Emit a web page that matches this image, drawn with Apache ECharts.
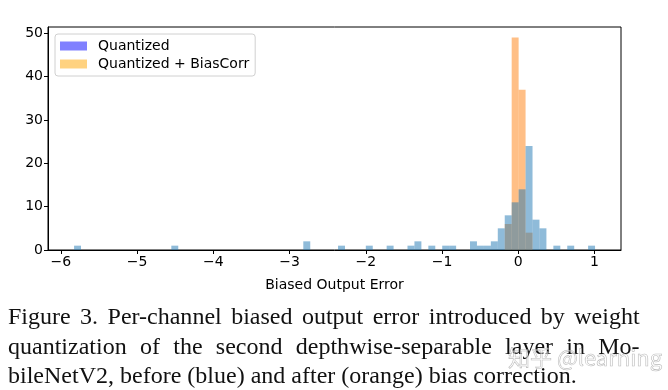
<!DOCTYPE html>
<html>
<head>
<meta charset="utf-8">
<script src="https://cdn.jsdelivr.net/npm/echarts@6/dist/echarts.min.js"></script>
<style>
  html, body { margin: 0; padding: 0; background: #fff; }
  #wrap { position: relative; width: 668px; height: 390px; overflow: hidden; }
  #chart { position: absolute; left: 0; top: 0; width: 668px; height: 390px; }
  #caption { position: absolute; left: 8px; top: 302px; width: 605px;
    transform: scaleX(1.044); transform-origin: 0 0;
    font-family: "Liberation Serif", "DejaVu Serif", serif; font-size: 23px;
    line-height: 29.5px; color: #111; }
  .j { text-align: justify; text-align-last: justify; white-space: nowrap; }
  .l { text-align: left; white-space: nowrap; }
  #wm { position: absolute; left: 508px; top: 340px; font-family: "Noto Sans CJK SC", sans-serif;
    font-size: 22px; color: rgba(255,255,255,0.55); -webkit-text-stroke: 0.6px rgba(120,120,120,0.5); }
</style>
</head>
<body>
<div id="wrap">
  <div id="chart"></div>
  <div id="caption">
    <div class="j">Figure 3. Per-channel biased output error introduced by weight</div>
    <div class="j">quantization of the second depthwise-separable layer in Mo-</div>
    <div class="l">bileNetV2, before (blue) and after (orange) bias correction.</div>
  </div>
  <div id="wm">知乎 @learning</div>
</div>
<script>
// Histogram structure: 75 equal-width bins
var binStart = -5.826;
var binWidth = 0.0911;
// Counts per bin
var quantizedCounts = [
  1,0,0,0,0,0,0,0,0,0,
  0,0,0,0,1,0,0,0,0,0,
  0,0,0,0,0,0,0,0,0,0,
  0,0,0,2,0,0,0,0,1,0,
  0,0,1,0,0,1,0,0,1,2,
  0,1,0,1,1,0,0,2,1,1,
  2,5,8,11,14,24,7,5,0,1,
  0,1,0,0,1
];
var biasCorrCounts = [
  0,0,0,0,0,0,0,0,0,0,
  0,0,0,0,0,0,0,0,0,0,
  0,0,0,0,0,0,0,0,0,0,
  0,0,0,0,0,0,0,0,0,0,
  0,0,0,0,0,0,0,0,0,0,
  0,0,0,0,0,0,0,0,0,0,
  0,0,6,49,37,4,0,0,0,0,
  0,0,0,0,0
];
var xTicks = [-6, -5, -4, -3, -2, -1, 0, 1];
var yTicks = [0, 10, 20, 30, 40, 50];
var seriesNames = ['Quantized', 'Quantized + BiasCorr'];
var xAxisTitle = 'Biased Output Error';

function toBins(counts) {
  var out = [];
  for (var i = 0; i < counts.length; i++) {
    if (counts[i] > 0) {
      var a = binStart + i * binWidth;
      out.push([a, a + binWidth, counts[i]]);
    }
  }
  return out;
}

function renderBar(params, api) {
  var p0 = api.coord([api.value(0), api.value(2)]);
  var p1 = api.coord([api.value(1), 0]);
  return {
    type: 'rect',
    shape: { x: p0[0], y: p0[1], width: p1[0] - p0[0], height: p1[1] - p0[1] },
    style: { fill: api.visual('color'), opacity: 0.5 }
  };
}

function minus(v) { return String(v).replace('-', '\u2212'); }

var chart = echarts.init(document.getElementById('chart'), null, { renderer: 'canvas' });
var font = 'DejaVu Sans';
chart.setOption({
  animation: false,
  backgroundColor: '#fff',
  grid: { left: 48, right: 47, top: 27, bottom: 140, show: true, borderColor: '#000', borderWidth: 1, backgroundColor: 'transparent' },
  legend: {
    left: 55, top: 34, orient: 'vertical',
    backgroundColor: '#fff', borderColor: '#d0d0d0', borderWidth: 1, borderRadius: 3,
    padding: [5, 6, 5, 5], itemGap: 4,
    itemWidth: 27, itemHeight: 9, icon: 'rect',
    textStyle: { fontFamily: font, fontSize: 14, color: '#000', padding: [0, 0, 0, 6] },
    data: [
      { name: seriesNames[0], itemStyle: { color: '#8080ff', opacity: 1 } },
      { name: seriesNames[1], itemStyle: { color: '#ffd280', opacity: 1 } }
    ]
  },
  xAxis: {
    type: 'value', min: -6.168, max: 1.347,
    name: xAxisTitle, nameLocation: 'middle', nameGap: 28,
    nameTextStyle: { fontFamily: font, fontSize: 14, color: '#000' },
    axisLine: { show: true, onZero: false, lineStyle: { color: '#000', width: 1 } },
    axisTick: { show: true, length: 4, inside: false, lineStyle: { color: '#000' }, customValues: xTicks },
    axisLabel: { fontFamily: font, fontSize: 14, color: '#000', margin: 5, customValues: xTicks, formatter: minus },
    splitLine: { show: false }
  },
  yAxis: {
    type: 'value', min: 0, max: 51.45,
    axisLine: { show: true, onZero: false, lineStyle: { color: '#000', width: 1 } },
    axisTick: { show: true, length: 4, lineStyle: { color: '#000' }, customValues: yTicks },
    axisLabel: { fontFamily: font, fontSize: 14, color: '#000', margin: 5, customValues: yTicks },
    splitLine: { show: false }
  },
  series: [
    {
      name: seriesNames[1], type: 'custom', renderItem: renderBar,
      itemStyle: { color: '#ff7f0e' },
      encode: { x: [0, 1], y: 2 },
      data: toBins(biasCorrCounts), z: 2
    },
    {
      name: seriesNames[0], type: 'custom', renderItem: renderBar,
      itemStyle: { color: '#1f77b4' },
      encode: { x: [0, 1], y: 2 },
      data: toBins(quantizedCounts), z: 3
    }
  ]
});
</script>
</body>
</html>
